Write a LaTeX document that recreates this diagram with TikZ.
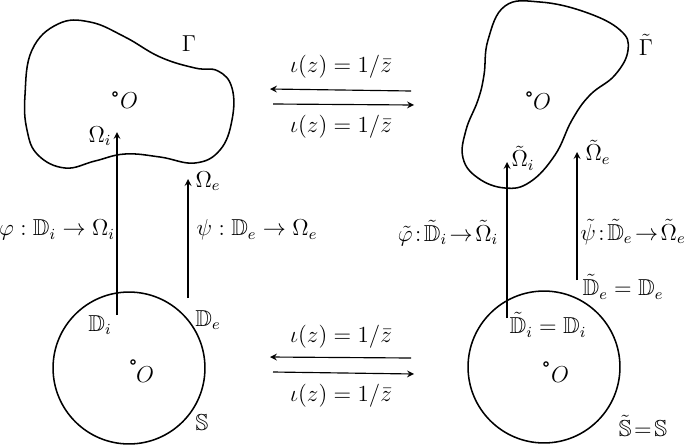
\documentclass[tikz,border=0pt]{standalone}
\usepackage{amsmath}
\usepackage{amssymb}
\usepackage{tikz}
\usetikzlibrary{positioning}

\begin{document}
\begin{tikzpicture}[x=0.52pt, y=-0.52pt, >=stealth,
font=\large,
disknode/.style={circle, draw=black, thick, minimum size=79pt, inner sep=0pt},
originnode/.style={circle, draw=black, semithick, inner sep=0.8pt},
labelnode/.style={inner sep=0.5pt},
maparrow/.style={->, semithick},
]
\useasboundingbox (0,0) rectangle (685,444);
%Domains
\draw[thick] plot[smooth cycle, tension=0.7] coordinates {
(25,95) (32,50) (58,24) (90,22) (125,37) (160,57) (195,68) (218,71) (232,88)
(232,120) (220,150) (195,163) (160,157) (125,154) (95,161) (65,168) (38,155) (27,130)};
\draw[thick] plot[smooth cycle, tension=0.7] coordinates {
(488,40) (505,6) (540,2) (585,12) (620,30) (628,50) (615,75) (590,95) (572,120)
(555,155) (530,182) (505,188) (478,178) (463,158) (466,130) (478,100) (484,75)};
\node[disknode]      (S)        at (129,368)     {};
\node[disknode]      (St)       at (544,367)     {};

%Origins
\node[originnode]    (o1)       at (115,94)      {};
\node[originnode]    (o2)       at (529,94)      {};
\node[originnode]    (o3)       at (133,362)     {};
\node[originnode]    (o4)       at (546,364)     {};
\node[labelnode]     (O1)       at (129,101)     {$O$};
\node[labelnode]     (O2)       at (542,102)     {$O$};
\node[labelnode]     (O3)       at (145,375)     {$O$};
\node[labelnode]     (O4)       at (560,375)     {$O$};

%Labels
\node[labelnode]     (Gamma)    at (189,44)      {$\Gamma$};
\node[labelnode]     (Gammat)   at (646,45)      {$\tilde{\Gamma}$};
\node[labelnode]     (Omi)      at (100,136)     {$\Omega_i$};
\node[labelnode]     (Ome)      at (208,181)     {$\Omega_e$};
\node[labelnode]     (Omit)     at (523,158)     {$\tilde{\Omega}_i$};
\node[labelnode]     (Omet)     at (598,152)     {$\tilde{\Omega}_e$};
\node[labelnode]     (Di)       at (100,325)     {$\mathbb{D}_i$};
\node[labelnode]     (De)       at (208,320)     {$\mathbb{D}_e$};
\node[labelnode]     (Dit)      at (548,325)     {$\tilde{\mathbb{D}}_i=\mathbb{D}_i$};
\node[labelnode]     (Det)      at (623,287)     {$\tilde{\mathbb{D}}_e=\mathbb{D}_e$};
\node[labelnode]     (Slbl)     at (202,423)     {$\mathbb{S}$};
\node[labelnode]     (Stlbl)    at (643,426)     {$\tilde{\mathbb{S}}\!=\!\mathbb{S}$};
\node[labelnode]     (phi)      at (57,230)      {$\varphi:\mathbb{D}_i\to\Omega_i$};
\node[labelnode]     (psi)      at (257,230)     {$\psi:\mathbb{D}_e\to\Omega_e$};
\node[labelnode]     (phit)     at (448,233)     {$\tilde{\varphi}\!:\!\tilde{\mathbb{D}}_i\!\to\!\tilde{\Omega}_i$};
\node[labelnode]     (psit)     at (633,232)     {$\tilde{\psi}\!:\!\tilde{\mathbb{D}}_e\!\to\!\tilde{\Omega}_e$};
\node[labelnode]     (iota1)    at (341,67)      {$\iota(z)=1/\bar{z}$};
\node[labelnode]     (iota2)    at (341,127)     {$\iota(z)=1/\bar{z}$};
\node[labelnode]     (iota3)    at (341,337)     {$\iota(z)=1/\bar{z}$};
\node[labelnode]     (iota4)    at (341,396)     {$\iota(z)=1/\bar{z}$};

%Ends of the arrows
\coordinate (a1) at (117,315);  \coordinate (b1) at (117,132);
\coordinate (a2) at (188,298);  \coordinate (b2) at (188,179);
\coordinate (a3) at (507,318);  \coordinate (b3) at (507,162);
\coordinate (a4) at (577,280);  \coordinate (b4) at (577,152);
\coordinate (c1) at (411,91);   \coordinate (d1) at (270,89);
\coordinate (c2) at (273,104);  \coordinate (d2) at (414,105);
\coordinate (c3) at (411,358);  \coordinate (d3) at (270,357);
\coordinate (c4) at (273,372);  \coordinate (d4) at (414,374);

%Lines
\draw[maparrow] (a1) -- (b1);
\draw[maparrow] (a2) -- (b2);
\draw[maparrow] (a3) -- (b3);
\draw[maparrow] (a4) -- (b4);
\draw[maparrow] (c1) -- (d1);
\draw[maparrow] (c2) -- (d2);
\draw[maparrow] (c3) -- (d3);
\draw[maparrow] (c4) -- (d4);
\end{tikzpicture}
\end{document}
